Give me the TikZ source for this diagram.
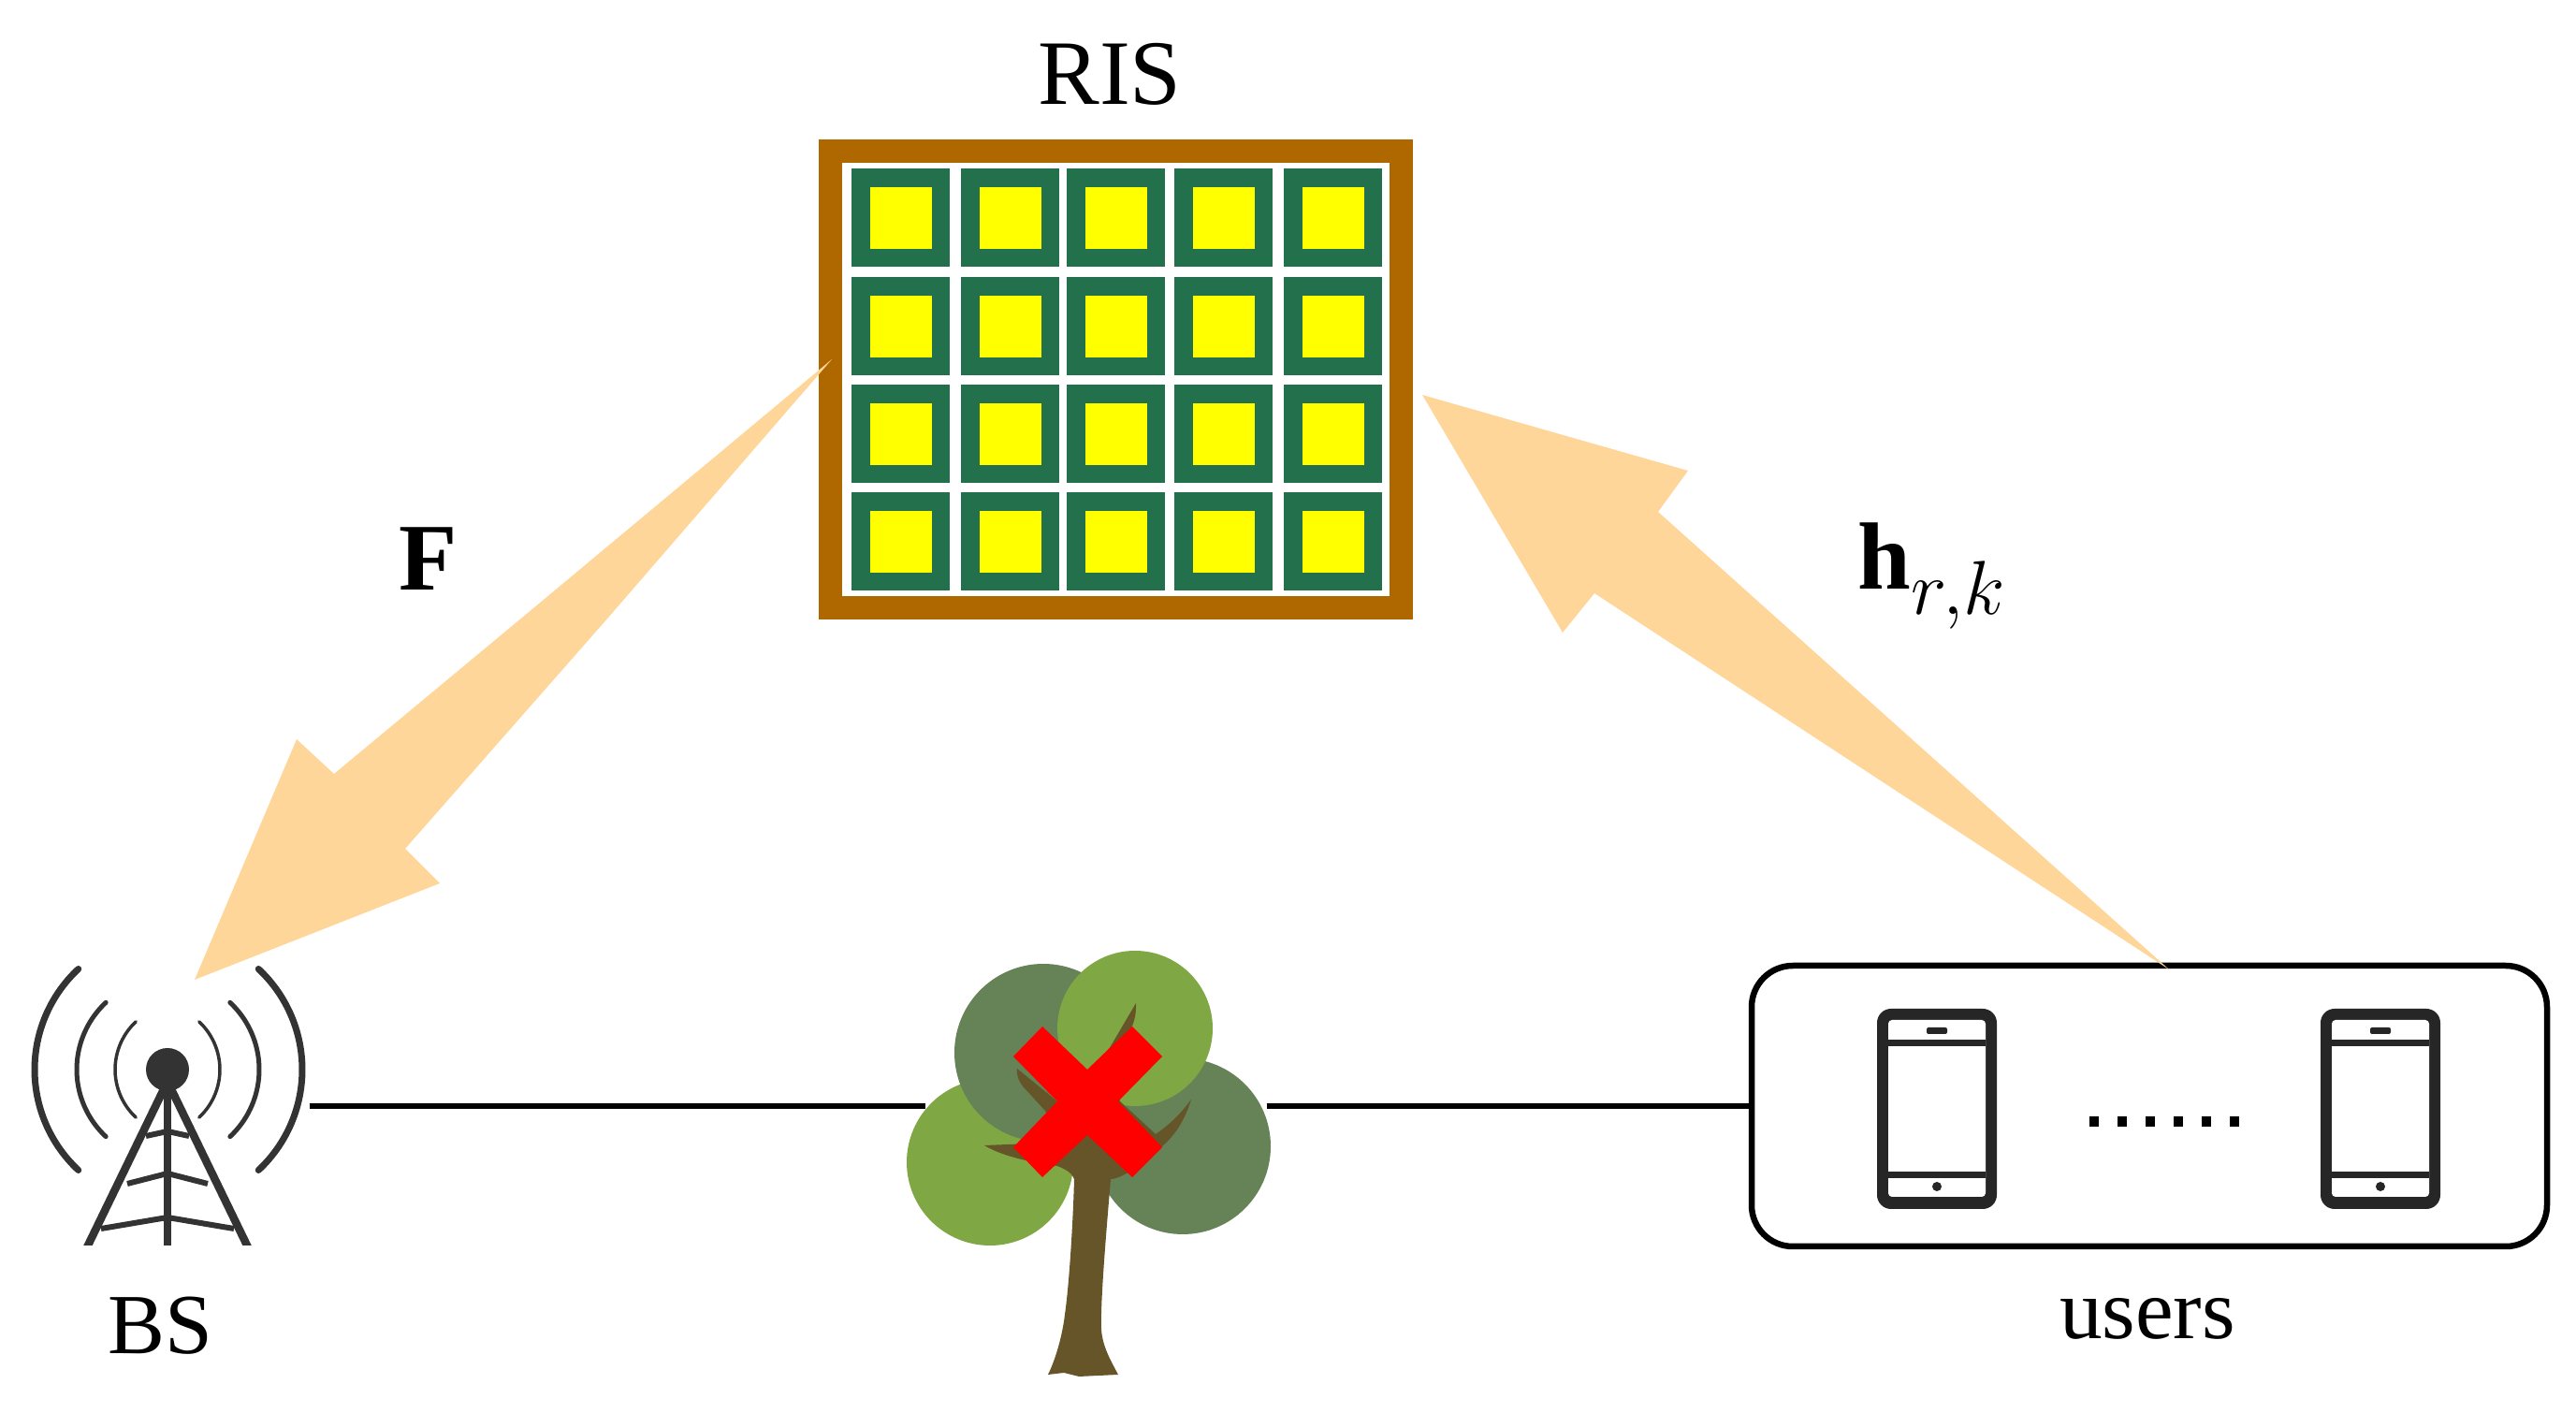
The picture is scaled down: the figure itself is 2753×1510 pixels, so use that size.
\documentclass[tikz,border=0pt]{standalone}
\usepackage{fontspec}
\setmainfont{Liberation Serif}
\usepackage{amsmath}

\definecolor{frameBrown}{HTML}{AF6800}
\definecolor{cellGreen}{HTML}{22704C}
\definecolor{cellYellow}{HTML}{FFFF00}
\definecolor{beamOrange}{HTML}{FFD699}
\definecolor{leafLight}{HTML}{7FA743}
\definecolor{leafDark}{HTML}{668257}
\definecolor{trunkBrown}{HTML}{655528}
\definecolor{iconGray}{HTML}{333333}
\definecolor{phoneGray}{HTML}{262626}

\def\px{0.01cm}

\tikzset{
  label text/.style={inner sep=0pt, anchor=base, font=\fontsize{26}{30}\selectfont},
  beam/.style={fill=beamOrange},
  phone/.pic={
    \fill[phoneGray, rounded corners=0.15cm] (-64, -107) rectangle (64, 107);
    \fill[white, rounded corners=0.04cm] (-52, -95) rectangle (52, 94);
    \fill[phoneGray] (-52, -74) rectangle (52, -67);
    \fill[phoneGray] (-52, 67) rectangle (52, 74);
    \fill[phoneGray, rounded corners=0.02cm] (-11, -87) rectangle (11, -80);
    \fill[phoneGray] (0, 83) circle[radius=5];
  },
}

\begin{document}
\begin{tikzpicture}[x=0.01cm, y=-0.01cm]
  \useasboundingbox (0, 0) rectangle (2753, 1510);

  % ris panel
  \node[
    draw=frameBrown, fill=white, line width=25*\px, inner sep=0pt,
    minimum width=610*\px, minimum height=488*\px,
  ] (ris) at (1192, 406) {};
  \foreach \cx in {910, 1027, 1140, 1255, 1372} {
    \foreach \cy in {180, 296, 411, 526} {
      \fill[cellGreen] (\cx, \cy) rectangle ++(105, 105);
      \fill[cellYellow] (\cx+20, \cy+20) rectangle ++(66, 66);
    }
  }
  \node[label text, font=\fontsize{28}{32}\selectfont] (ris label) at (1186, 112) {RIS};

  % end points of the line of sight
  \node[inner sep=0pt, minimum width=302*\px, minimum height=300*\px] (bs) at (179, 1182) {};
  \node[inner sep=0pt, minimum width=363*\px, minimum height=480*\px] (tree) at (1171.5, 1182) {};
  \node[
    draw, line width=6.5*\px, rounded corners=0.44cm, inner sep=0pt,
    minimum width=850*\px, minimum height=300*\px,
  ] (users) at (2297, 1182) {};
  \draw[line width=6*\px] (bs.east) -- (tree.west);
  \draw[line width=6*\px] (tree.east) -- (users.west);

  % base station
  \fill[iconGray] (179, 1143) circle[radius=23];
  \foreach \r/\cl/\cr/\w in {70/193/165/3.5, 98/180/179/5, 147/184/176/7} {
    \draw[iconGray, line width=\w*\px, line cap=round]
      plot[
        variable=\t,
        domain=133:227,
        samples=30,
        smooth,
      ]
      ({\cl+\r*cos(\t)}, {1143+\r*sin(\t)})
    ;
    \draw[iconGray, line width=\w*\px, line cap=round]
      plot[
        variable=\t,
        domain=-47:47,
        samples=30,
        smooth,
      ]
      ({\cr+\r*cos(\t)}, {1143+\r*sin(\t)})
    ;
  }
  \begin{scope}
    \clip (60, 1154) rectangle (300, 1331);
    \draw[iconGray, line width=8.5*\px] (175, 1164) -- (92, 1335);
    \draw[iconGray, line width=8.5*\px] (183, 1164) -- (266, 1335);
    \draw[iconGray, line width=8*\px] (179, 1164) -- (179, 1335);
    \draw[iconGray, line width=6*\px] (156, 1214) -- (179, 1209) -- (202, 1214);
    \draw[iconGray, line width=6*\px] (136, 1265) -- (179, 1254) -- (222, 1265);
    \draw[iconGray, line width=6*\px] (108, 1313) -- (179, 1301) -- (250, 1313);
  \end{scope}
  \node[label text] (bs label) at (171, 1447) {BS};

  % tree
  \fill[leafLight] (1058, 1242) circle[radius=89];
  \fill[leafDark] (1264, 1225) circle[radius=94];
  \fill[leafDark] (1115, 1125) circle[radius=95];
  \fill[leafLight] (1213, 1099) circle[radius=83];
  \fill[trunkBrown]
    (1052, 1224) .. controls (1070, 1235) and (1100, 1242) .. (1130, 1246)
    .. controls (1140, 1250) and (1146, 1254) .. (1148, 1260)
    .. controls (1147, 1300) and (1143, 1370) .. (1138, 1405)
    .. controls (1135, 1430) and (1127, 1455) .. (1120, 1469)
    -- (1137, 1467) -- (1153, 1471) -- (1195, 1469)
    .. controls (1186, 1452) and (1178, 1438) .. (1177, 1420)
    .. controls (1176, 1390) and (1182, 1320) .. (1187, 1260)
    .. controls (1200, 1260) and (1225, 1240) .. (1242, 1225)
    .. controls (1255, 1214) and (1266, 1198) .. (1273, 1175)
    .. controls (1262, 1190) and (1250, 1202) .. (1235, 1212)
    -- (1197, 1177)
    -- (1190, 1125)
    .. controls (1205, 1108) and (1215, 1095) .. (1214, 1072)
    -- (1187, 1118)
    -- (1163, 1150) -- (1160, 1190) -- (1130, 1177)
    -- (1087, 1142)
    .. controls (1086, 1150) and (1090, 1158) .. (1095, 1163)
    -- (1117, 1187) -- (1130, 1210) -- (1103, 1222)
    -- cycle
  ;
  \fill[red]
    (1114, 1097) -- (1162, 1143) -- (1210, 1097) -- (1242, 1129)
    -- (1195, 1177) -- (1242, 1226) -- (1210, 1258) -- (1162, 1213)
    -- (1114, 1258) -- (1083, 1226) -- (1130, 1177) -- (1083, 1129)
    -- cycle
  ;

  % users
  \pic at (2070, 1185) {phone};
  \pic at (2544, 1185) {phone};
  \foreach \i in {0, ..., 5} {
    \fill (2233+\i*30, 1193) rectangle ++(10, 11);
  }
  \node[label text] (users label) at (2295, 1431) {users};

  % channels
  \fill[beam]
    (889, 384) -- (650, 660) -- (433, 907) -- (470, 944) -- (208, 1047)
    -- (317, 790) -- (357, 827) -- (558, 660) -- cycle
  ;
  \fill[beam]
    (2318, 1036) -- (1704, 634) -- (1670, 676) -- (1520, 422)
    -- (1804, 503) -- (1772, 547) -- cycle
  ;
  \node[label text, font=\fontsize{29}{32}\selectfont] (f label) at (458, 631) {\textbf{F}};
  \node[label text, anchor=base west, font=\fontsize{29}{32}\selectfont] (h label) at (1985, 630)
    {$\mathbf{h}_{\scalebox{1.12}{$\scriptstyle r,k$}}$};
\end{tikzpicture}
\end{document}
